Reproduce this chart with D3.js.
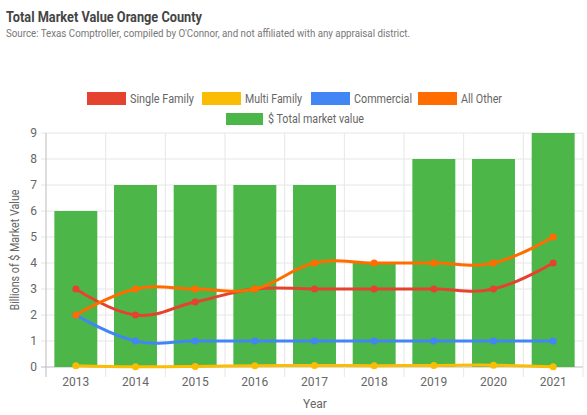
<!DOCTYPE html>
<html>
<head>
<meta charset="utf-8">
<script src="https://cdn.jsdelivr.net/npm/d3@7"></script>
<style>
	body { margin: 0; background: #fff; font-family: Roboto, "Liberation Sans", sans-serif; }
</style>
</head>
<body>
<div id="chart"></div>
<script>
const years = ['2013','2014','2015','2016','2017','2018','2019','2020','2021']
const total_value = [6,7,7,7,7,4,8,8,9]
const single_family = [3,2,2.5,3,3,3,3,3,4]
const multi_family = [0.05,0.01,0.02,0.05,0.06,0.05,0.06,0.07,0.01]
const commercial = [2,1,1,1,1,1,1,1,1]
const all_other = [2,3,3,3,4,4,4,4,5]
const y_ticks = [0,1,2,3,4,5,6,7,8,9]

const series_names = ['Single Family','Multi Family','Commercial','All Other']
const series_colors = ['#e5432f','#fbbc04','#4285f4','#ff6d01']
const bar_color = '#4cb748'

const width = 587
const height = 415
const margin = {top: 133, right: 4, bottom: 48, left: 46}

let svg = d3.select('#chart')
	.append('svg')
	.attr('width', width)
	.attr('height', height)

// title (font in the original is a bit narrower, so squeeze it)
svg.append('text')
	.attr('x', 6)
	.attr('y', 22)
	.attr('font-size', 14)
	.attr('font-weight', 'bold')
	.attr('fill', '#444')
	.attr('textLength', 196)
	.attr('lengthAdjust', 'spacingAndGlyphs')
	.text('Total Market Value Orange County')

svg.append('text')
	.attr('x', 6)
	.attr('y', 37)
	.attr('font-size', 11.5)
	.attr('fill', '#777')
	.attr('textLength', 404)
	.attr('lengthAdjust', 'spacingAndGlyphs')
	.text('Source: Texas Comptroller, compiled by O\'Connor, and not affiliated with any appraisal district.')

let x = d3.scaleBand()
	.domain(years)
	.range([margin.left, width - margin.right])

let y = d3.scaleLinear()
	.domain([0, 9])
	.range([height - margin.bottom, margin.top])

let plot = svg.append('g')

// grid
plot.selectAll('.hgrid')
	.data(y_ticks)
	.enter()
	.append('line')
	.attr('x1', margin.left - 5)
	.attr('x2', width - margin.right)
	.attr('y1', d => y(d))
	.attr('y2', d => y(d))
	.attr('stroke', d => d == 0 ? '#bbb' : '#e6e6e6')
	.attr('stroke-width', 1)

let x_lines = years.map(d => x(d)).concat([width - margin.right])
plot.selectAll('.vgrid')
	.data(x_lines)
	.enter()
	.append('line')
	.attr('x1', d => d)
	.attr('x2', d => d)
	.attr('y1', margin.top)
	.attr('y2', height - margin.bottom + 10)
	.attr('stroke', (d,i) => i == 0 ? '#bbb' : '#e6e6e6')
	.attr('stroke-width', 1)

// bars
let bar_w = x.bandwidth() * 0.72
plot.selectAll('.bar')
	.data(total_value)
	.enter()
	.append('rect')
	.attr('x', (d,i) => x(years[i]) + x.bandwidth()/2 - bar_w/2)
	.attr('width', bar_w)
	.attr('y', d => y(d))
	.attr('height', d => y(0) - y(d))
	.attr('fill', bar_color)

// lines
let all_series = [single_family, multi_family, commercial, all_other]
let line = d3.line()
	.x((d,i) => x(years[i]) + x.bandwidth()/2)
	.y(d => y(d))
	.curve(d3.curveCardinal.tension(-0.2))

all_series.forEach(function (s,k) {
	plot.append('path')
		.attr('d', line(s))
		.attr('fill', 'none')
		.attr('stroke', series_colors[k])
		.attr('stroke-width', 3)

	plot.selectAll('.pt' + k)
		.data(s)
		.enter()
		.append('circle')
		.attr('cx', (d,i) => x(years[i]) + x.bandwidth()/2)
		.attr('cy', d => y(d))
		.attr('r', 3.5)
		.attr('fill', series_colors[k])
})

// axes labels
svg.selectAll('.ytick')
	.data(y_ticks)
	.enter()
	.append('text')
	.attr('x', 37)
	.attr('y', d => y(d) + 4)
	.attr('text-anchor', 'end')
	.attr('font-size', 12)
	.attr('fill', '#666')
	.text(d => d)

svg.selectAll('.xtick')
	.data(years)
	.enter()
	.append('text')
	.attr('x', d => x(d) + x.bandwidth()/2)
	.attr('y', 386)
	.attr('text-anchor', 'middle')
	.attr('font-size', 12)
	.attr('fill', '#666')
	.text(d => d)

svg.append('text')
	.attr('transform', 'translate(19,' + ((margin.top + height - margin.bottom)/2) + ') rotate(-90)')
	.attr('text-anchor', 'middle')
	.attr('font-size', 12)
	.attr('fill', '#666')
	.attr('textLength', 121)
	.attr('lengthAdjust', 'spacingAndGlyphs')
	.text('Billions of $ Market Value')

svg.append('text')
	.attr('x', 315)
	.attr('y', 408)
	.attr('text-anchor', 'middle')
	.attr('font-size', 12)
	.attr('fill', '#666')
	.text('Year')

// legend
let legend_x = [87, 202, 311, 418]
let legend_w = [64, 57, 58, 41]
series_names.forEach(function (name,k) {
	let g = svg.append('g')
	g.append('rect')
		.attr('x', legend_x[k])
		.attr('y', 92)
		.attr('width', 39)
		.attr('height', 13)
		.attr('fill', series_colors[k])
	g.append('text')
		.attr('x', legend_x[k] + 43)
		.attr('y', 103)
		.attr('font-size', 12)
		.attr('fill', '#666')
		.attr('textLength', legend_w[k])
		.attr('lengthAdjust', 'spacingAndGlyphs')
		.text(name)
})

svg.append('rect')
	.attr('x', 226)
	.attr('y', 113)
	.attr('width', 37)
	.attr('height', 12)
	.attr('fill', bar_color)

svg.append('text')
	.attr('x', 268)
	.attr('y', 123)
	.attr('font-size', 12)
	.attr('fill', '#666')
	.attr('textLength', 96)
	.attr('lengthAdjust', 'spacingAndGlyphs')
	.text('$ Total market value')
</script>
</body>
</html>
